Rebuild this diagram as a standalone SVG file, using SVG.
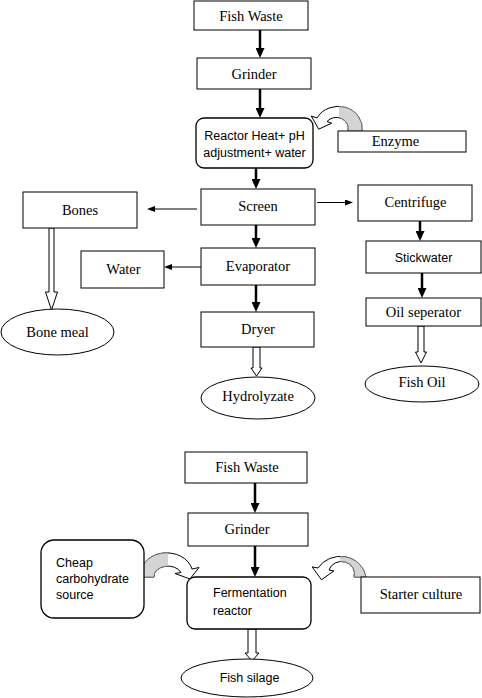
<svg xmlns="http://www.w3.org/2000/svg" width="482" height="698" viewBox="0 0 482 698">
<style>
.box{fill:#fff;stroke:#000;stroke-width:1}
.rbox{fill:#fff;stroke:#000;stroke-width:1.3}
.sans{font-family:"Liberation Sans",Arial,sans-serif;font-size:12.5px;fill:#000}
.c{text-anchor:middle}
.thick{stroke:#000;stroke-width:2.5;fill:none;marker-end:url(#ah)}
.thin{stroke:#000;stroke-width:1;fill:none;marker-end:url(#ahs)}
.hollow{fill:#fff;stroke:#000;stroke-width:1}
.curve{fill:#fff;stroke:#000;stroke-width:1}
.curvegray{fill:#d4d4d4;stroke:#777;stroke-width:1}
</style>
<defs>
<marker id="ah" viewBox="0 0 10 9" markerWidth="10" markerHeight="9" refX="2" refY="4.5" orient="auto" markerUnits="userSpaceOnUse"><path d="M0,0 L10,4.5 L0,9 z" fill="#000"/></marker>
<marker id="ahs" viewBox="0 0 8 6" markerWidth="8" markerHeight="6" refX="1" refY="3" orient="auto" markerUnits="userSpaceOnUse"><path d="M0,0 L8,3 L0,6 z" fill="#000"/></marker>
<clipPath id="clipEnz"><rect x="339" y="90" width="40" height="50"/></clipPath>
<clipPath id="clipStart"><rect x="340" y="540" width="40" height="45"/></clipPath>
<clipPath id="clipCheap"><rect x="130" y="540" width="38" height="45"/></clipPath>
<path id="arrEnz" d="M362,131 A24,22 0 0 0 317,118 L311.3,116 L318.7,129.2 L331.7,123.2 L327,121.5 A12,11 0 0 1 348,131 Z"/>
<path id="arrStart" d="M366,577 A26,24 0 0 0 318,568 L312.1,566.9 L321.5,579.8 L333.9,570.9 L329,570 A13,12 0 0 1 354,577 Z"/>
<path id="arrCheap" d="M141,577 A26,21 0 0 1 192,569 L199,567.5 L190,579 L175,573.5 L181,572.5 A14,10 0 0 0 154,577 Z"/>
</defs>
<rect width="482" height="698" fill="#fff"/>

<g id="connectors">
<line class="thick" x1="260" y1="30" x2="260" y2="50"/>
<line class="thick" x1="260" y1="89" x2="260" y2="110"/>
<line class="thick" x1="256" y1="168" x2="256" y2="181"/>
<line class="thick" x1="256" y1="225" x2="256" y2="240"/>
<line class="thick" x1="256" y1="285" x2="256" y2="304"/>
<line class="thick" x1="420" y1="221" x2="420" y2="233"/>
<line class="thick" x1="422" y1="273" x2="422" y2="290"/>
<line class="thick" x1="255" y1="483" x2="255" y2="505"/>
<line class="thick" x1="255" y1="546" x2="255" y2="569"/>
<line class="thin" x1="197" y1="209" x2="154" y2="209"/>
<line class="thin" x1="201" y1="267" x2="171" y2="267"/>
<line class="thin" x1="317" y1="202.5" x2="346" y2="202.5"/>
<path class="hollow" d="M253,347 L260,347 L260,368 L262,368 L256.5,376 L251,368 L253,368 Z"/>
<path class="hollow" d="M49,228 L54,228 L54,292 L57.5,292 L51.5,310 L45.5,292 L49,292 Z"/>
<path class="hollow" d="M418,326 L424,326 L424,352 L426.5,352 L421,363 L415.5,352 L418,352 Z"/>
<path class="hollow" d="M248,629 L256,629 L256,653 L259,653 L252,661 L245,653 L248,653 Z"/>
<use href="#arrEnz" class="curve"/>
<use href="#arrEnz" class="curvegray" clip-path="url(#clipEnz)"/>
<use href="#arrStart" class="curve"/>
<use href="#arrStart" class="curvegray" clip-path="url(#clipStart)"/>
<use href="#arrCheap" class="curve"/>
<use href="#arrCheap" class="curvegray" clip-path="url(#clipCheap)"/>
</g>

<g font-family="'Liberation Serif', 'Times New Roman', Tinos, 'DejaVu Serif', serif" font-size="14.5" fill="#000">
<g id="fish-waste"><rect class="box" x="194" y="1" width="114" height="29"/><text class="c" x="251" y="20.5">Fish Waste</text></g>
<g id="grinder"><rect class="box" x="197" y="58" width="114" height="31"/><text class="c" x="254" y="78.5">Grinder</text></g>
<g id="enzyme"><rect class="box" x="338" y="131" width="128" height="21"/><text class="c" x="395.5" y="146">Enzyme</text></g>
<g id="screen"><rect class="box" x="201" y="189" width="114" height="36"/><text class="c" x="258" y="211">Screen</text></g>
<g id="evaporator"><rect class="box" x="201" y="248" width="114" height="37"/><text class="c" x="258" y="271">Evaporator</text></g>
<g id="dryer"><rect class="box" x="201" y="312" width="113" height="35"/><text class="c" x="258" y="333.5">Dryer</text></g>
<g id="hydrolyzate"><ellipse class="box" cx="258" cy="398" rx="57" ry="21"/><text class="c" x="258" y="401">Hydrolyzate</text></g>
<g id="bones"><rect class="box" x="23" y="192" width="114" height="36"/><text class="c" x="80" y="214.5">Bones</text></g>
<g id="water"><rect class="box" x="81" y="251" width="83" height="37"/><text class="c" x="123.5" y="273.5">Water</text></g>
<g id="bone-meal"><ellipse class="box" cx="57.5" cy="332" rx="56.5" ry="23"/><text class="c" x="57.5" y="337">Bone meal</text></g>
<g id="centrifuge"><rect class="box" x="358" y="185" width="114" height="36"/><text class="c" x="415.5" y="207">Centrifuge</text></g>
<g id="oil-separator"><rect class="box" x="366" y="298" width="115" height="28"/><text class="c" x="423.5" y="317">Oil seperator</text></g>
<g id="fish-oil"><ellipse class="box" cx="422" cy="384" rx="57" ry="18"/><text class="c" x="422" y="387">Fish Oil</text></g>
<g id="fish-waste-2"><rect class="box" x="185" y="452" width="122" height="31"/><text class="c" x="247" y="472">Fish Waste</text></g>
<g id="grinder-2"><rect class="box" x="188" y="513" width="120" height="33"/><text class="c" x="247" y="533.5">Grinder</text></g>
<g id="starter-culture"><rect class="box" x="361" y="577" width="119" height="36"/><text class="c" x="421" y="598.5">Starter culture</text></g>
</g>

<g id="reactor"><rect class="rbox" x="196" y="118" width="117" height="50" rx="8"/><text class="sans c" x="254.5" y="140">Reactor Heat+ pH</text><text class="sans c" x="254.5" y="157">adjustment+ water</text></g>
<g id="stickwater"><rect class="box" x="366" y="241" width="115" height="32"/><text class="sans c" x="423.5" y="262">Stickwater</text></g>
<g id="fermentation-reactor"><rect class="rbox" x="187" y="577" width="124" height="52" rx="8"/><text class="sans" x="213" y="597">Fermentation</text><text class="sans" x="213" y="615">reactor</text></g>
<g id="cheap-carbohydrate"><rect class="rbox" x="41" y="540" width="103" height="78" rx="13"/><text class="sans" x="56" y="566.5">Cheap</text><text class="sans" x="56" y="582.5">carbohydrate</text><text class="sans" x="56" y="598.5">source</text></g>
<g id="fish-silage"><ellipse class="box" cx="247" cy="678" rx="66" ry="19"/><text class="sans c" x="249.5" y="682">Fish silage</text></g>
</svg>
